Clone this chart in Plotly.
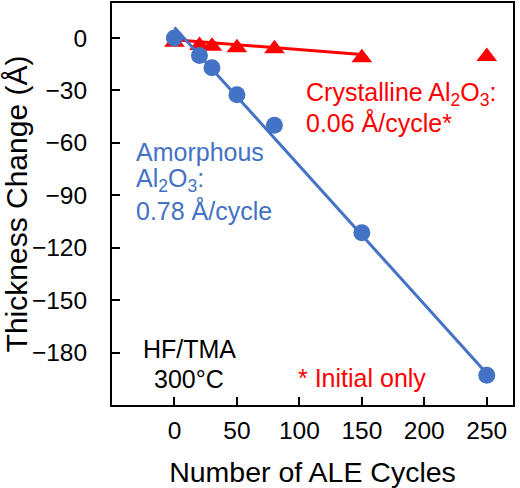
import plotly.graph_objects as go

# Data
cycles_amorph = [0, 20, 30, 50, 80, 150, 250]
thick_amorph = [0, -10, -17, -32.5, -50, -111.5, -193]
cycles_cryst = [0, 20, 30, 50, 80, 150, 250]
thick_cryst = [-2.5, -4.3, -4.8, -5.6, -6.2, -11.3, -10.6]
fit_amorph_x = [0, 250]
fit_amorph_y = [6, -192]
fit_cryst_x = [0, 150]
fit_cryst_y = [-1, -9.5]

x_ticks = [0, 50, 100, 150, 200, 250]
y_ticks = [0, -30, -60, -90, -120, -150, -180]

BLUE = "#4472C4"
RED = "#FF0000"
FONT = "Arial, Liberation Sans, sans-serif"

fig = go.Figure()
fig.add_trace(go.Scatter(x=fit_cryst_x, y=fit_cryst_y, mode="lines",
                         line=dict(color=RED, width=3), showlegend=False))
fig.add_trace(go.Scatter(x=cycles_cryst, y=thick_cryst, mode="markers",
                         marker=dict(symbol="triangle-up", size=18, color=RED),
                         showlegend=False))
fig.add_trace(go.Scatter(x=fit_amorph_x, y=fit_amorph_y, mode="lines",
                         line=dict(color=BLUE, width=3), showlegend=False))
fig.add_trace(go.Scatter(x=cycles_amorph, y=thick_amorph, mode="markers",
                         marker=dict(symbol="circle", size=17, color=BLUE),
                         showlegend=False))

def ann(text, x, y, color, anchor="left"):
    fig.add_annotation(x=x, y=y, xref="x", yref="y", text=text, showarrow=False,
                       xanchor=anchor, yanchor="middle",
                       font=dict(family=FONT, size=25, color=color))

ann("Crystalline Al<sub>2</sub>O<sub>3</sub>:", 103.5, -32, RED)
ann("0.06 Å/cycle*", 103.5, -48.5, RED)
ann("Amorphous", -32, -65, BLUE)
ann("Al<sub>2</sub>O<sub>3</sub>:", -32, -81.5, BLUE)
ann("0.78 Å/cycle", -32, -98.5, BLUE)
ann("HF/TMA", 12, -178, "black", "center")
ann("300°C", 12, -195, "black", "center")
ann("* Initial only", 150, -194.5, RED, "center")

fig.update_layout(
    width=520, height=488,
    margin=dict(l=112, r=7, t=3, b=83),
    paper_bgcolor="white", plot_bgcolor="white",
    font=dict(family=FONT, size=24.5, color="black"),
    showlegend=False,
)
fig.update_xaxes(
    range=[-50, 271], tickvals=x_ticks, ticks="inside", ticklen=8, tickwidth=2,
    tickcolor="black", showline=True, linewidth=2, linecolor="black", mirror=True,
    showgrid=False, zeroline=False, automargin=False, ticklabelstandoff=3,
    title=dict(text="Number of ALE Cycles", font=dict(size=28.5), standoff=21),
)
fig.update_yaxes(
    range=[-210, 20], tickvals=y_ticks, ticks="inside", ticklen=8, tickwidth=2,
    tickcolor="black", showline=True, linewidth=2, linecolor="black", mirror=True,
    showgrid=False, zeroline=False, automargin=False, ticklabelstandoff=18,
    title=dict(text="Thickness Change (Å)", font=dict(size=30), standoff=1),
)
fig.write_html("out.html", config={"displayModeBar": False},
               post_script="document.body.style.margin='0';")
